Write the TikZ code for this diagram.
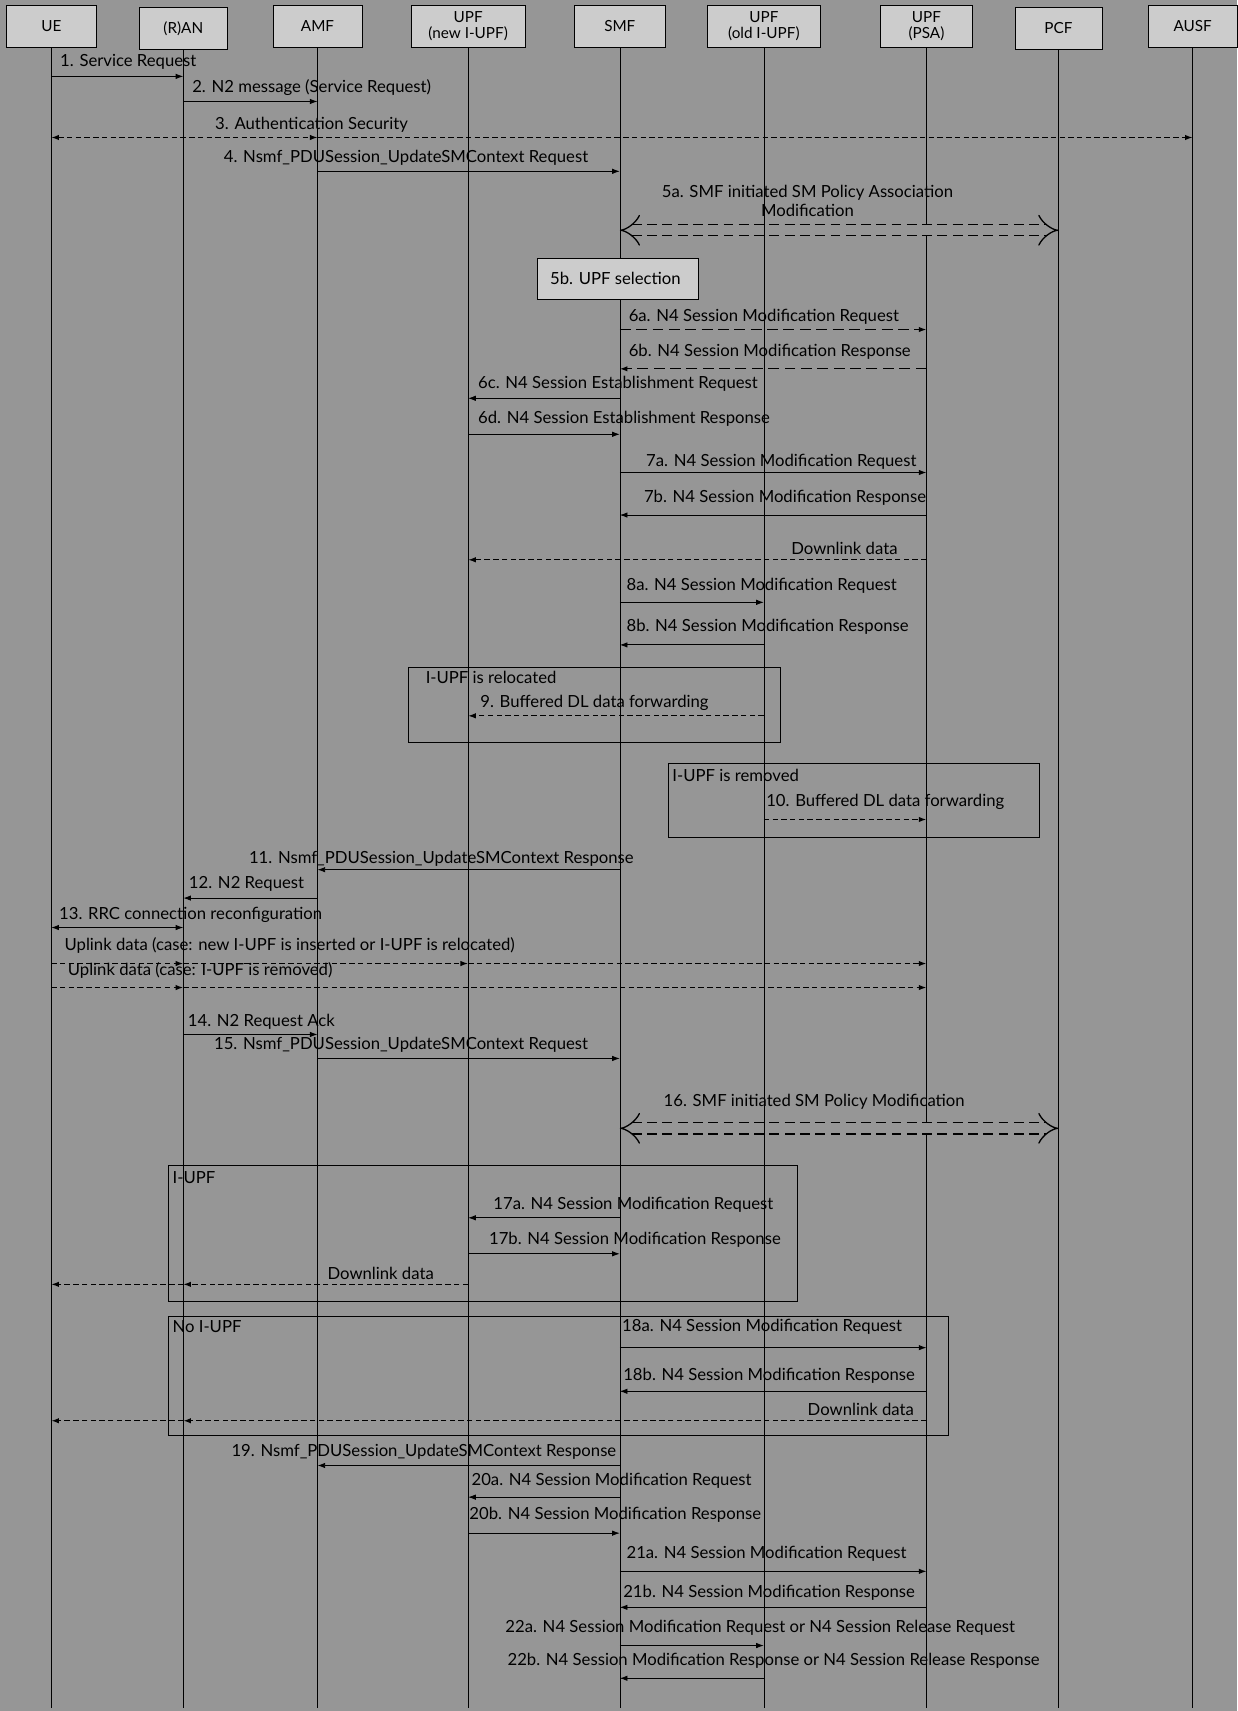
\documentclass[tikz,border=0pt]{standalone}
\usepackage{fontspec}
\setmainfont{Lato}
\usetikzlibrary{arrows.meta}

\begin{document}
\begin{tikzpicture}
	[
		x=1pt, y=-1pt,
		every node/.style = {font=\fontsize{15.3}{17}\selectfont},
		head/.style = {shape=rectangle, draw, fill=black!20, minimum height=38pt, align=center, inner sep=1pt, font=\fontsize{14}{15}\selectfont},
		ar/.style = {-{Latex[length=7pt,width=5pt]}, thick},
		da/.style = {ar, dash pattern=on 5pt off 3pt, very thick},
		dd/.style = {ar, dash pattern=on 10pt off 5pt, very thick},
		pol/.style = {{Implies}-{Implies}, double=black!41, double distance=9pt, very thick, dash pattern=on 9pt off 5pt},
		lab/.style = {anchor=west, inner sep=0pt},
		frame/.style = {draw, thin}
	]
	
	\fill[black!41] (0,0) rectangle (1134,1568);
	\useasboundingbox (0,0) rectangle (1134,1568);
	
	% lifelines
	\foreach \n/\x/\y/\w/\t in {ue/47/24/82/UE, ran/168/26/81/(R)AN, amf/291/24/81/AMF,
		upfn/429/24/104/{UPF\\(new I-UPF)}, smf/568/24/83/SMF, upfo/700/24/104/{UPF\\(old I-UPF)},
		psa/849/24/84/{UPF\\(PSA)}, pcf/970/26/80/PCF, ausf/1093/24/81/AUSF}
	{
		\draw (\x,\y) -- (\x,1565);
		\node [head, minimum width=\w pt] (\n) at (\x,\y) {\t};
	}
	
	% boxes
	\node [frame, fill=black!20, minimum width=148pt, minimum height=37pt] (sel) at (566,255.5) {};
	\node [lab] at (504,255) {5b. UPF selection};
	\draw [frame] (374,611) rectangle (715,680);
	\node [lab] at (390,621) {I-UPF is relocated};
	\draw [frame] (612,699) rectangle (952,767);
	\node [lab] at (616,711) {I-UPF is removed};
	\draw [frame] (154,1068) rectangle (731,1192);
	\node [lab] at (158,1079) {I-UPF};
	\draw [frame] (154,1206) rectangle (869,1315);
	\node [lab] at (158,1216) {No I-UPF};
	
	% messages
	\draw [ar] (ue |- 0,70) -- (ran |- 0,70);
	\node [lab] at (55,57) {1. Service Request};
	\draw [ar] (ran |- 0,93) -- (amf |- 0,93);
	\node [lab] at (176,80) {2. N2 message (Service Request)};
	\draw [da, {Latex[length=7pt,width=5pt]}-{Latex[length=7pt,width=5pt]}] (ue |- 0,126) -- (amf |- 0,126);
	\draw [da] (amf |- 0,126) -- (ausf |- 0,126);
	\node [lab] at (197,114) {3. Authentication Security};
	\draw [ar] (amf |- 0,157) -- (smf |- 0,157);
	\node [lab] at (205,145) {4. Nsmf\_PDUSession\_UpdateSMContext Request};
	\draw [pol] (smf |- 0,211) -- (pcf |- 0,211);
	\node [align=center] at (740,184) {5a. SMF initiated SM Policy Association\\Modification};
	\draw [dd] (smf |- 0,302) -- (psa |- 0,302);
	\node [lab] at (576,290) {6a. N4 Session Modification Request};
	\draw [dd] (psa |- 0,338) -- (smf |- 0,338);
	\node [lab] at (576,322) {6b. N4 Session Modification Response};
	\draw [ar] (smf |- 0,365) -- (upfn |- 0,365);
	\node [lab] at (438,352) {6c. N4 Session Establishment Request};
	\draw [ar] (upfn |- 0,398) -- (smf |- 0,398);
	\node [lab] at (438,384) {6d. N4 Session Establishment Response};
	\draw [ar] (smf |- 0,433) -- (psa |- 0,433);
	\node [lab] at (592,423) {7a. N4 Session Modification Request};
	\draw [ar] (psa |- 0,472) -- (smf |- 0,472);
	\node [lab] at (590,456) {7b. N4 Session Modification Response};
	\draw [da] (psa |- 0,513) -- (upfn |- 0,513);
	\node [lab] at (725,503) {Downlink data};
	\draw [ar] (smf |- 0,552) -- (upfo |- 0,552);
	\node [lab] at (574,537) {8a. N4 Session Modification Request};
	\draw [ar] (upfo |- 0,591) -- (smf |- 0,591);
	\node [lab] at (574,574) {8b. N4 Session Modification Response};
	\draw [da] (upfo |- 0,656) -- (upfn |- 0,656);
	\node [lab] at (440,644) {9. Buffered DL data forwarding};
	\draw [da] (upfo |- 0,751) -- (psa |- 0,751);
	\node [lab] at (702,735) {10. Buffered DL data forwarding};
	\draw [ar] (smf |- 0,797) -- (amf |- 0,797);
	\node [lab] at (228,787) {11. Nsmf\_PDUSession\_UpdateSMContext Response};
	\draw [ar] (amf |- 0,823) -- (ran |- 0,823);
	\node [lab] at (173,810) {12. N2 Request};
	\draw [ar, {Latex[length=7pt,width=5pt]}-{Latex[length=7pt,width=5pt]}] (ue |- 0,850) -- (ran |- 0,850);
	\node [lab] at (54,838) {13. RRC connection reconfiguration};
	\draw [da] (ue |- 0,883) -- (ran |- 0,883);
	\draw [da] (ran |- 0,883) -- (upfn |- 0,883);
	\draw [da] (upfn |- 0,883) -- (psa |- 0,883);
	\node [lab] at (59,866) {Uplink data (case: new I-UPF is inserted or I-UPF is relocated)};
	\draw [da] (ue |- 0,905) -- (ran |- 0,905);
	\draw [da] (ran |- 0,905) -- (psa |- 0,905);
	\node [lab] at (62,889) {Uplink data (case: I-UPF is removed)};
	\draw [ar] (ran |- 0,948) -- (amf |- 0,948);
	\node [lab] at (172,936) {14. N2 Request Ack};
	\draw [ar] (amf |- 0,970) -- (smf |- 0,970);
	\node [lab] at (196,957) {15. Nsmf\_PDUSession\_UpdateSMContext Request};
	\draw [pol] (smf |- 0,1034) -- (pcf |- 0,1034);
	\node [lab] at (608,1010) {16. SMF initiated SM Policy Modification};
	\draw [ar] (smf |- 0,1116) -- (upfn |- 0,1116);
	\node [lab] at (452,1104) {17a. N4 Session Modification Request};
	\draw [ar] (upfn |- 0,1149) -- (smf |- 0,1149);
	\node [lab] at (448,1136) {17b. N4 Session Modification Response};
	\draw [da] (upfn |- 0,1177) -- (ran |- 0,1177);
	\draw [da] (ran |- 0,1177) -- (ue |- 0,1177);
	\node [lab] at (300,1167) {Downlink data};
	\draw [ar] (smf |- 0,1235) -- (psa |- 0,1235);
	\node [lab] at (570,1216) {18a. N4 Session Modification Request};
	\draw [ar] (psa |- 0,1275) -- (smf |- 0,1275);
	\node [lab] at (571,1261) {18b. N4 Session Modification Response};
	\draw [da] (psa |- 0,1302) -- (ran |- 0,1302);
	\draw [da] (ran |- 0,1302) -- (ue |- 0,1302);
	\node [lab] at (740,1292) {Downlink data};
	\draw [ar] (smf |- 0,1343) -- (amf |- 0,1343);
	\node [lab] at (212,1330) {19. Nsmf\_PDUSession\_UpdateSMContext Response};
	\draw [ar] (smf |- 0,1372) -- (upfn |- 0,1372);
	\node [lab] at (432,1357) {20a. N4 Session Modification Request};
	\draw [ar] (upfn |- 0,1405) -- (smf |- 0,1405);
	\node [lab] at (430,1388) {20b. N4 Session Modification Response};
	\draw [ar] (smf |- 0,1440) -- (psa |- 0,1440);
	\node [lab] at (574,1424) {21a. N4 Session Modification Request};
	\draw [ar] (psa |- 0,1473) -- (smf |- 0,1473);
	\node [lab] at (571,1460) {21b. N4 Session Modification Response};
	\draw [ar] (smf |- 0,1508) -- (upfo |- 0,1508);
	\node [lab] at (463,1492) {22a. N4 Session Modification Request or N4 Session Release Request};
	\draw [ar] (upfo |- 0,1538) -- (smf |- 0,1538);
	\node [lab] at (465,1522) {22b. N4 Session Modification Response or N4 Session Release Response};
\end{tikzpicture}
\end{document}
